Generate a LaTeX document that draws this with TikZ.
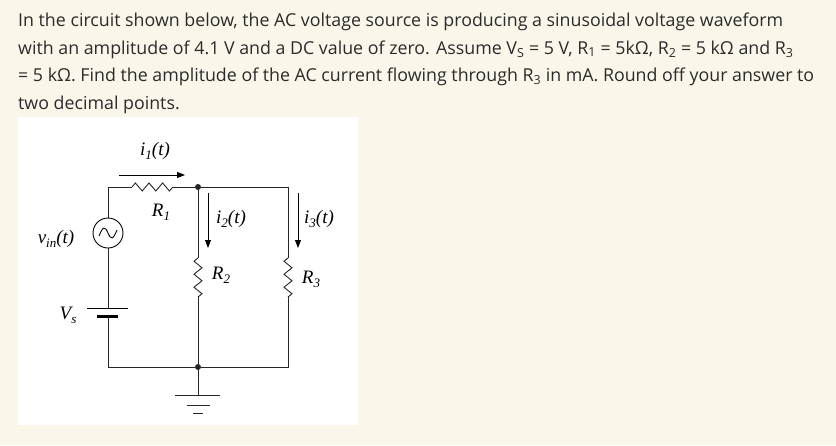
\documentclass[tikz,border=0pt]{standalone}
\usepackage{fontspec}
\setmainfont{Open Sans}
\newfontfamily\cfont{Liberation Serif}
\usetikzlibrary{arrows.meta}
\definecolor{bgc}{HTML}{FAF6E9}
\definecolor{txt}{HTML}{2B2B2B}
\newcommand{\csub}[1]{\raisebox{-4pt}{\fontsize{13}{14}\selectfont #1}}
\begin{document}
\begin{tikzpicture}[x=1pt,y=-1pt,
  tline/.style={anchor=base west,inner sep=0,text=txt,font=\fontsize{17.8}{18}\selectfont},
  lab/.style={inner sep=0,font=\cfont\itshape\fontsize{19}{20}\selectfont},
  wire/.style={line width=0.9pt,black!85},
  cur/.style={line width=0.9pt,-{Triangle[length=8pt,width=6pt]}},
  dot/.style={circle,fill=black!85,inner sep=0,minimum size=6pt}]
\fill[bgc] (0,0) rectangle (836,445);
\fill[white] (18,117) rectangle (358,425);
\node[tline] (l1) at (18,26) {In the circuit shown below, the AC voltage source is producing a sinusoidal voltage waveform};
\node[tline] (l2) at (18,54) {with an amplitude of 4.1 V and a DC value of zero. Assume V\textsubscript{S} = 5 V, R\textsubscript{1} = 5kΩ, R\textsubscript{2} = 5 kΩ and R\textsubscript{3}};
\node[tline] (l3) at (18,81) {= 5 kΩ. Find the amplitude of the AC current flowing through R\textsubscript{3} in mA. Round off your answer to};
\node[tline] (l4) at (18,109) {two decimal points.};
% nodes
\coordinate (tl) at (108,187);
\coordinate (r1a) at (132,187);
\coordinate (r1b) at (173,187);
\node[dot] (n1) at (198,187) {};
\coordinate (tr) at (288,187);
\coordinate (bl) at (108,367);
\node[dot] (n2) at (198,367) {};
\coordinate (br) at (288,367);
\node[circle,draw,line width=0.9pt,minimum size=30pt,inner sep=0] (src) at (108,233) {};
\draw[line width=0.9pt] (99,236) .. controls (103,226) and (105,226) .. (108,233) .. controls (111,240) and (113,240) .. (117,230);
\coordinate (bt) at (108,308);
\coordinate (bb) at (108,316);
\coordinate (r2a) at (198,258); \coordinate (r2b) at (198,297);
\coordinate (r3a) at (288,258); \coordinate (r3b) at (288,297);
\coordinate (g) at (198,395);
% wires
\draw[wire] (src.south) -- (bt);
\draw[wire] (bb) -- (bl) -- (n2) -- (br) -- (r3b);
\draw[wire] (src.north) -- (tl) -- (r1a);
\draw[wire] (r1b) -- (n1) -- (tr) -- (r3a);
\draw[wire] (n1) -- (r2a); \draw[wire] (r2b) -- (n2) -- (g);
% resistors
\draw[wire] (r1a) -- ++(3.4,-4) -- ++(6.8,8) -- ++(6.8,-8) -- ++(6.8,8) -- ++(6.8,-8) -- ++(6.8,8) -- (r1b);
\draw[wire] (r2a) -- ++(-4,3.25) -- ++(8,6.5) -- ++(-8,6.5) -- ++(8,6.5) -- ++(-8,6.5) -- ++(8,6.5) -- (r2b);
\draw[wire] (r3a) -- ++(-4,3.25) -- ++(8,6.5) -- ++(-8,6.5) -- ++(8,6.5) -- ++(-8,6.5) -- ++(8,6.5) -- (r3b);
% battery
\draw[line width=0.9pt] (87,308) -- (128,308);
\draw[line width=3pt] (97,316) -- (118,316);
% ground
\draw[wire] (175,395) -- (220,395);
\draw[wire] (187,405) -- (210,405);
\draw[wire] (193,413) -- (203,413);
% currents
\draw[cur] (119,175) -- (185,175);
\draw[cur] (208,193) -- (208,248);
\draw[cur] (298,193) -- (298,248);
% labels
\node[lab] (li1) at (155,151) {i\csub{1}(t)};
\node[lab] (lr1) at (161,212) {R\csub{1}};
\node[lab] (li2) at (231,219) {i\csub{2}(t)};
\node[lab] (li3) at (319,219) {i\csub{3}(t)};
\node[lab] (lr2) at (221,275) {R\csub{2}};
\node[lab] (lr3) at (311,279) {R\csub{3}};
\node[lab] (lvin) at (56,239) {v\csub{in}(t)};
\node[lab] (lvs) at (68,315) {V\csub{s}};
\end{tikzpicture}
\end{document}
